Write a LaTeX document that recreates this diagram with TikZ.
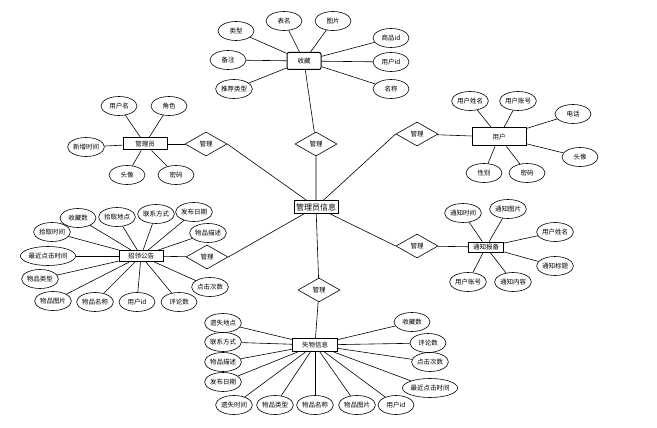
\documentclass[tikz,border=0pt]{standalone}
\usepackage{fontspec}
\newfontfamily\cjk{Noto Sans CJK SC}
\usetikzlibrary{shapes.geometric}

\begin{document}
\begin{tikzpicture}[x=1pt,y=-1pt,
    every node/.style={font=\cjk\fontsize{6.5}{7}\selectfont},
    attr/.style={draw, ellipse, line width=0.6pt, inner sep=0pt, minimum width=36pt, minimum height=19pt},
    entity/.style={draw, line width=1pt, fill=white, inner sep=1pt},
    rel/.style={draw, diamond, line width=0.6pt, inner sep=0pt, minimum width=42pt, minimum height=24pt},
    link/.style={line width=0.6pt}]
    \useasboundingbox (0,0) rectangle (657,428);

    % Draw the centre entity
    \node[entity, minimum width=44pt, minimum height=13pt, font=\cjk\fontsize{8}{9}\selectfont] (gl) at (316,207) {管理员信息};

    % Draw the entities
    \node[entity, rounded corners=2pt, minimum width=34pt, minimum height=17pt] (sc) at (304,61) {收藏};
    \node[entity, minimum width=54pt, minimum height=18pt] (yh) at (499,137) {用户};
    \node[entity, minimum width=44pt, minimum height=12pt] (gly) at (145,144) {管理员};
    \node[entity, minimum width=44pt, minimum height=11pt] (zl) at (141,256) {招领公告};
    \node[entity, minimum width=35pt, minimum height=10pt] (tz) at (486,247) {通知报备};
    \node[entity, minimum width=45pt, minimum height=13pt] (sw) at (315,345) {失物信息};

    % Draw the relations
    \node[rel] (dT) at (316,144) {管理};
    \node[rel] (dRT) at (417,134) {管理};
    \node[rel] (dRB) at (417,246) {管理};
    \node[rel] (dB) at (319,290) {管理};
    \node[rel] (dLT) at (206,144) {管理};
    \node[rel] (dLB) at (207,257) {管理};

    % Connect the relations
    \draw[link] (sc) -- (dT) -- (gl);
    \draw[link] (gl) -- (dRT.west);
    \draw[link] (dRT) -- (yh);
    \draw[link] (gl) -- (dRB.west);
    \draw[link] (dRB) -- (tz);
    \draw[link] (gl) -- (dB) -- (sw);
    \draw[link] (gly) -- (dLT);
    \draw[link] (dLT.east) -- (gl);
    \draw[link] (zl) -- (dLB);
    \draw[link] (dLB.east) -- (gl);

    % Attributes of 收藏
    \foreach \xy/\txt [count=\i] in {{236,31}/类型, {284,21}/表名, {333,21}/图片, {391,38}/商品id,
        {391,62}/用户id, {391,89}/名称, {228,60}/备注, {234,89}/推荐类型}
        {\node[attr] (sc\i) at (\xy) {\txt};
         \draw[link] (sc\i) -- (sc);}

    % Attributes of 用户
    \foreach \xy/\txt [count=\i] in {{470,101}/用户姓名, {518,101}/用户账号, {573,114}/电话,
        {580,157}/头像, {484,173}/性别, {527,173}/密码}
        {\node[attr] (yh\i) at (\xy) {\txt};
         \draw[link] (yh\i) -- (yh);}

    % Attributes of 管理员
    \foreach \xy/\txt [count=\i] in {{119,106}/用户名, {169,106}/角色, {86,147}/新增时间,
        {127,175}/头像, {176,175}/密码}
        {\node[attr] (gly\i) at (\xy) {\txt};
         \draw[link] (gly\i) -- (gly);}

    % Attributes of 招领公告
    \foreach \xy/\txt [count=\i] in {{78,218}/收藏数, {117,217}/拾取地点, {156,214}/联系方式,
        {194,212}/发布日期, {208,233}/物品描述, {52,232}/拾取时间, {48,256}/最近点击时间,
        {40,279}/物品类型, {53,301}/物品图片, {95,302}/物品名称, {137,302}/用户id,
        {179,302}/评论数, {210,287}/点击次数}
        {\node[attr] (zl\i) at (\xy) {\txt};
         \draw[link] (zl\i) -- (zl);}

    % Attributes of 通知报备
    \foreach \xy/\txt [count=\i] in {{463,213}/通知时间, {508,209}/通知图片, {555,232}/用户姓名,
        {555,266}/通知标题, {468,282}/用户账号, {513,282}/通知内容}
        {\node[attr] (tz\i) at (\xy) {\txt};
         \draw[link] (tz\i) -- (tz);}

    % Attributes of 失物信息
    \foreach \xy/\txt [count=\i] in {{223,323}/遗失地点, {223,342}/联系方式, {223,362}/物品描述,
        {223,382}/发布日期, {234,405}/遗失时间, {275,405}/物品类型, {315,405}/物品名称,
        {357,405}/物品图片, {396,405}/用户id, {412,322}/收藏数, {428,343}/评论数,
        {430,362}/点击次数, {430,388}/最近点击时间}
        {\node[attr] (sw\i) at (\xy) {\txt};
         \draw[link] (sw\i) -- (sw);}
\end{tikzpicture}
\end{document}
